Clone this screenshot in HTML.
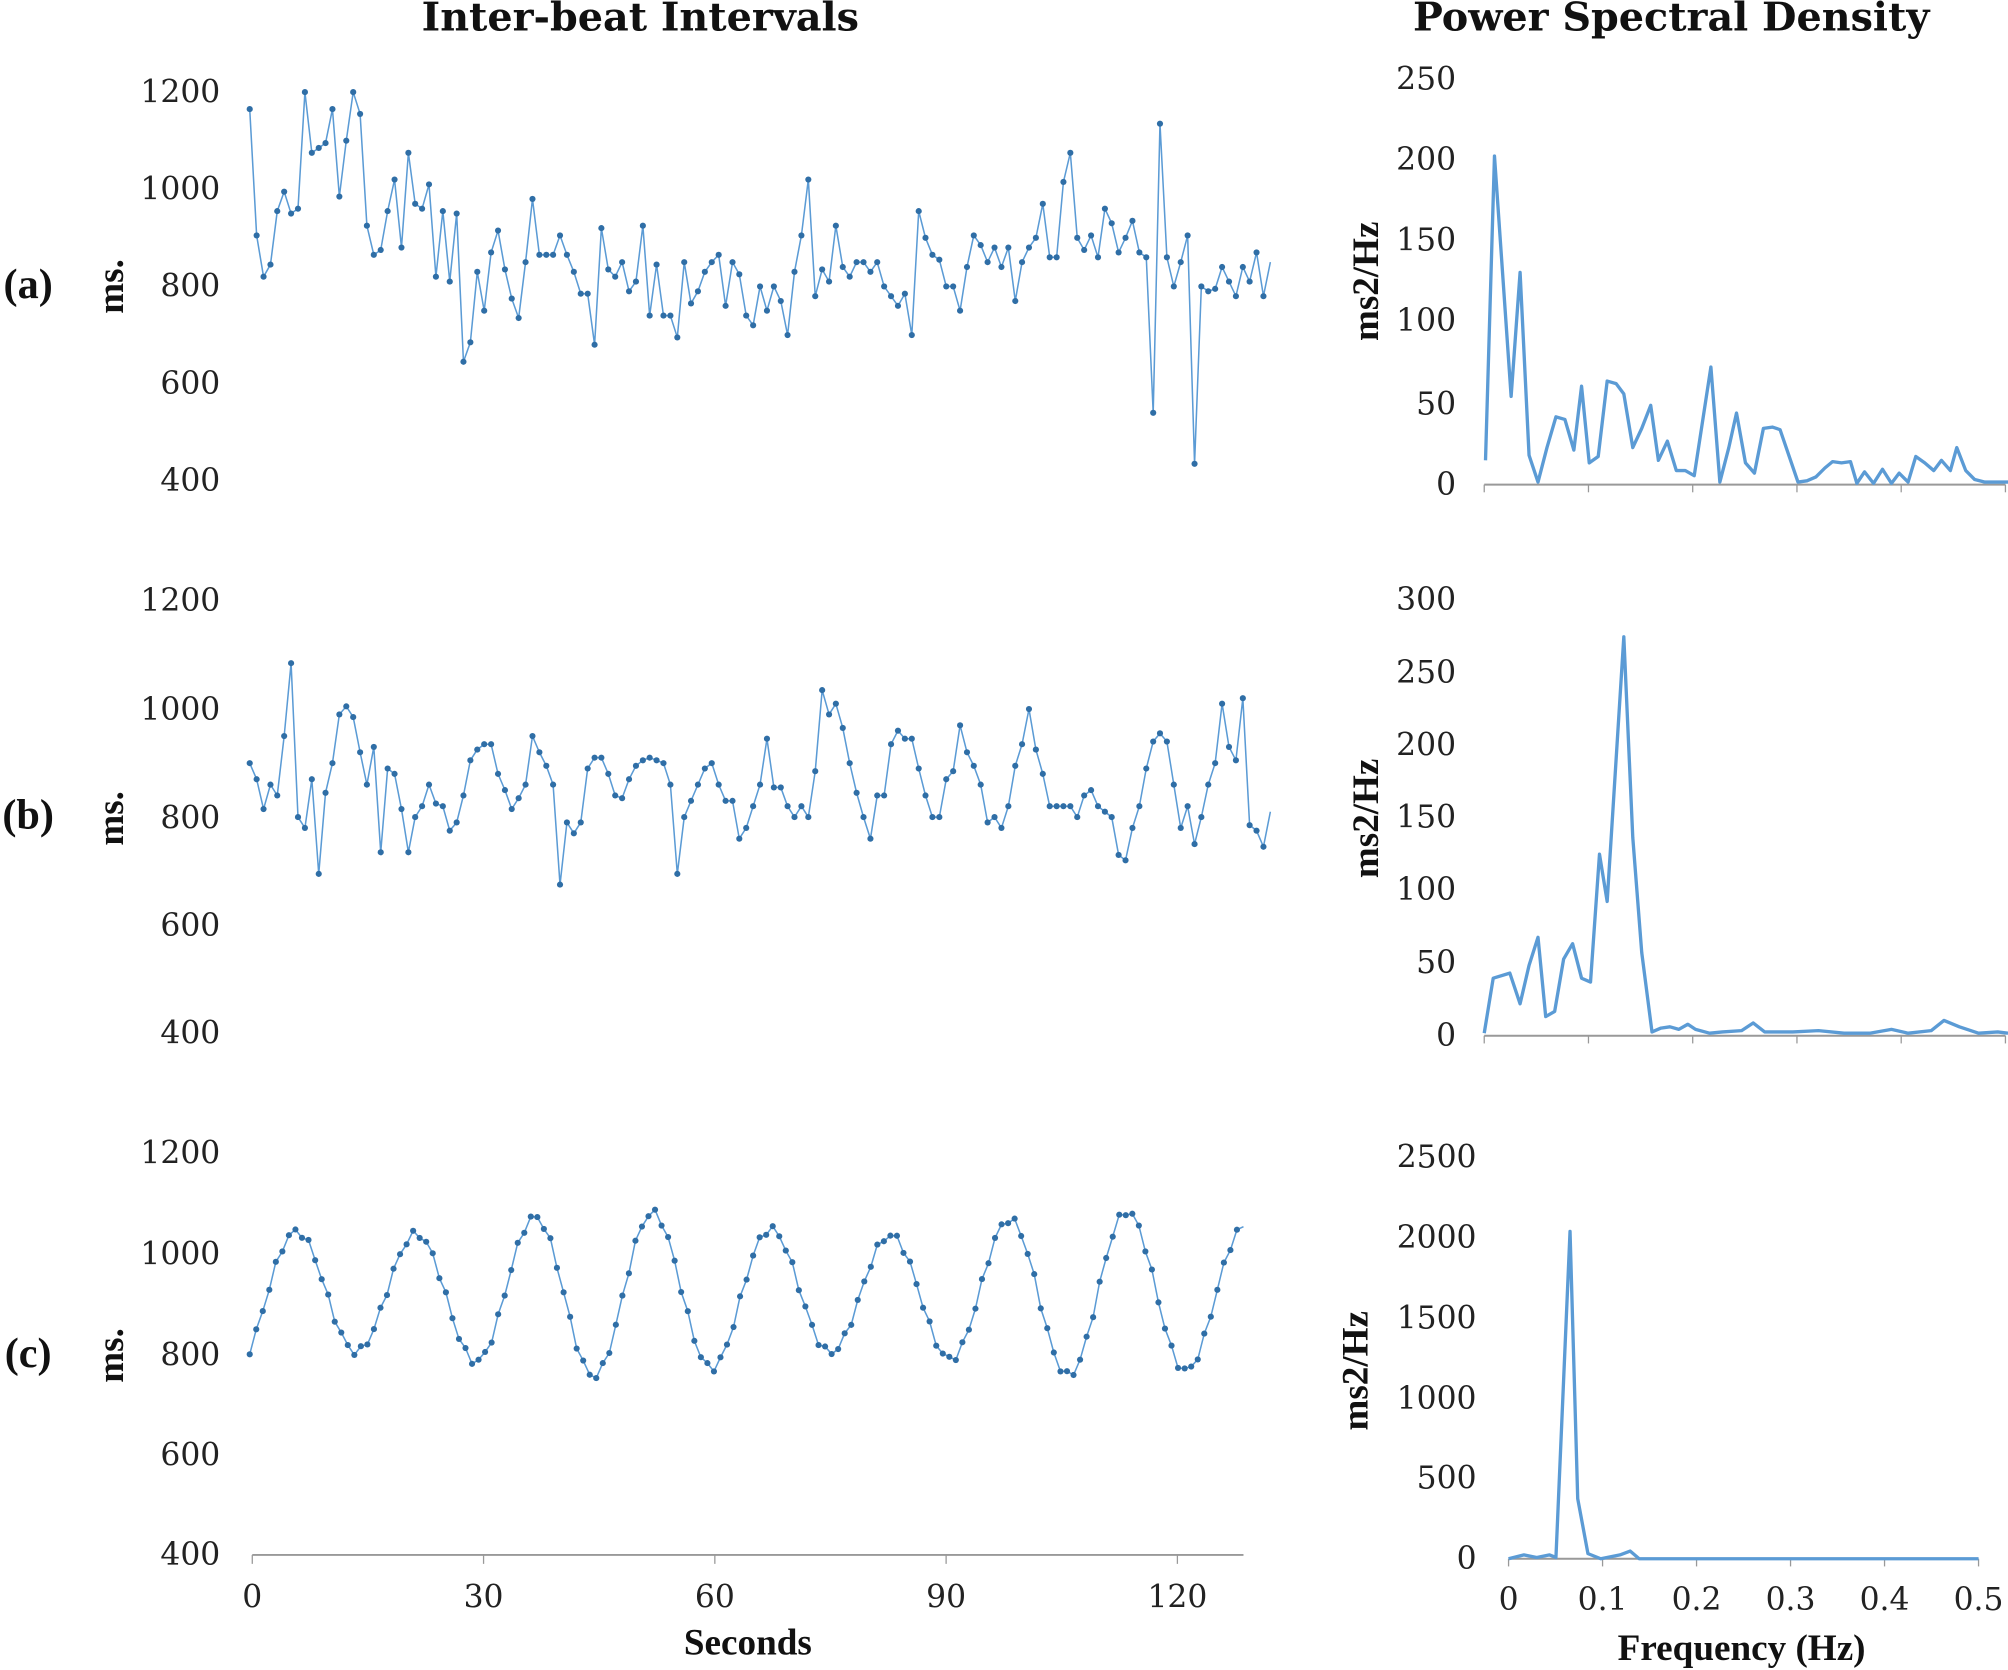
<!DOCTYPE html>
<html><head><meta charset="utf-8">
<style>
html,body{margin:0;padding:0;background:#fff;}
svg{display:block;}
text{font-family:"DejaVu Serif","Liberation Serif",serif;fill:#222;}
.t{font-size:24.5px;}
.ti{font-size:31px;font-weight:bold;fill:#111;}
.pl{font-family:"Liberation Serif",serif;font-size:33px;font-weight:bold;fill:#111;}
.yl{font-family:"Liberation Serif",serif;font-size:29px;font-weight:bold;fill:#111;}
</style></head><body>
<svg id="s" width="2008" height="1670" viewBox="0 0 1568 1306" preserveAspectRatio="none" xmlns="http://www.w3.org/2000/svg">
<text class="ti" x="500" y="24" text-anchor="middle">Inter-beat Intervals</text>
<text class="ti" x="1305" y="24" text-anchor="middle">Power Spectral Density</text>
<g id="g"></g>
</svg>
<script>
var g=document.getElementById('g'),h='';
function T(x,y,s,c,a){h+='<text class="'+(c||'t')+'" x="'+x+'" y="'+y+'" text-anchor="'+(a||'end')+'">'+s+'</text>';}
function R(x,y,s,c){h+='<text class="'+c+'" transform="translate('+x+','+y+') rotate(-90)" text-anchor="middle">'+s+'</text>';}
function ibi(vals,x0,x1,y1200,y400,markers){
 var pts=[],n=vals.length;
 for(var i=0;i<n;i++){var x=x0+(x1-x0)*i/(n-1);var y=y400+(vals[i]-400)/800*(y1200-y400);pts.push(x.toFixed(1)+','+y.toFixed(1));}
 h+='<polyline points="'+pts.join(' ')+'" fill="none" stroke="#5b9bd5" stroke-width="1.2"/>';
 for(var i=0;i<n-1;i++){var p=pts[i].split(',');h+='<circle cx="'+p[0]+'" cy="'+p[1]+'" r="2.4" fill="#2f6ea6"/>';}
}
function yaxis(labels,ys,x){for(var i=0;i<labels.length;i++)T(x,ys[i]+8,labels[i]);}
var A=[1165,905,820,845,955,995,950,960,1200,1075,1085,1095,1165,985,1100,1200,1155,925,865,875,955,1020,880,1075,970,960,1010,820,955,810,950,645,685,830,750,870,915,835,775,735,850,980,865,865,865,905,865,830,785,785,680,920,835,820,850,790,810,925,740,845,740,740,695,850,765,790,830,850,865,760,850,825,740,720,800,750,800,770,700,830,905,1020,780,835,810,925,840,820,850,850,830,850,800,780,760,785,700,955,900,865,855,800,800,750,840,905,885,850,880,840,880,770,850,880,900,970,860,860,1015,1075,900,875,905,860,960,930,870,900,935,870,860,540,1135,860,800,850,905,435,800,790,795,840,810,780,840,810,870,780,850];
yaxis(['1200','1000','800','600','400'],[72,148,224,300,376],172);
ibi(A,195,992,72,376);
T(22,233,'(a)','pl','middle');R(96,224,'ms.','yl');
var B=[900,870,815,860,840,950,1085,800,780,870,695,845,900,990,1005,985,920,860,930,735,890,880,815,735,800,820,860,825,820,775,790,840,905,925,935,935,880,850,815,835,860,950,920,895,860,675,790,770,790,890,910,910,880,840,835,870,895,905,910,905,900,860,695,800,830,860,890,900,860,830,830,760,780,820,860,945,855,855,820,800,820,800,885,1035,990,1010,965,900,845,800,760,840,840,935,960,945,945,890,840,800,800,870,885,970,920,895,860,790,800,780,820,895,935,1000,925,880,820,820,820,820,800,840,850,820,810,800,730,720,780,820,890,940,955,940,860,780,820,750,800,860,900,1010,930,905,1020,785,775,745,810];
yaxis(['1200','1000','800','600','400'],[470,555,640,724,808],172);
ibi(B,195,992,470,808);
T(22,648,'(b)','pl','middle');R(96,640,'ms.','yl');
var C=[];
for(var x=195;x<=971;x+=5.1){var ph=2*Math.PI*(x-232)/92.5;var amp=140+25*Math.sin(x/61);var v=920+amp*Math.cos(ph)+8*Math.sin(x*1.7);C.push(v);}
yaxis(['1200','1000','800','600','400'],[902,981,1060,1138,1216],172);
ibi(C,195,971,902,1216);
h+='<line x1="197" y1="1216" x2="971" y2="1216" stroke="#999" stroke-width="1.5"/>';
[0,30,60,90,120].forEach(function(s){var x=197+s*6.02;h+='<line x1="'+x+'" y1="1216" x2="'+x+'" y2="1223" stroke="#999"/>';T(x,1257,s,'t','middle');});
T(584,1294,'Seconds','yl','middle');
T(22,1069,'(c)','pl','middle');R(96,1060,'ms.','yl');
function psd(pts,axY,x0,x1){
 h+='<line x1="'+x0+'" y1="'+axY+'" x2="'+x1+'" y2="'+axY+'" stroke="#999" stroke-width="1.5"/>';
 for(var i=0;i<=5;i++){var x=x0+(x1-x0)*i/5;h+='<line x1="'+x+'" y1="'+axY+'" x2="'+x+'" y2="'+(axY+6)+'" stroke="#999"/>';}
 h+='<polyline points="'+pts+'" fill="none" stroke="#5b9bd5" stroke-width="2.6" stroke-linejoin="round"/>';
}
yaxis(['250','200','150','100','50','0'],[62,125,188,251,316,379],1137);
psd('1160,360 1167,122 1180,310 1187,213 1194,356 1201,377 1208,350 1215,326 1222,328 1229,352 1235,302 1241,362 1248,357 1255,298 1262,300 1268,308 1275,350 1282,335 1289,317 1295,360 1302,345 1309,368 1316,368 1323,372 1336,287 1343,377 1350,350 1356,323 1363,362 1370,370 1377,335 1384,334 1390,336 1404,377 1411,376 1418,373 1425,366 1431,361 1438,362 1445,361 1450,378 1456,369 1463,378 1470,367 1477,378 1483,370 1490,377 1496,357 1503,362 1510,368 1516,360 1523,368 1528,350 1535,368 1542,375 1550,377 1568,377',379,1159,1566);
R(1076,220,'ms2/Hz','yl');
yaxis(['300','250','200','150','100','50','0'],[469,526,583,639,696,753,810],1137);
psd('1159,808 1166,765 1179,761 1187,785 1194,755 1201,733 1207,795 1214,791 1221,750 1228,738 1235,765 1242,768 1249,668 1255,705 1268,498 1275,655 1282,745 1290,807 1297,804 1304,803 1311,805 1318,801 1324,805 1335,808 1345,807 1360,806 1369,800 1378,807 1400,807 1420,806 1440,808 1460,808 1477,805 1490,808 1508,806 1518,798 1530,803 1545,808 1560,807 1568,808',810,1159,1566);
R(1076,640,'ms2/Hz','yl');
yaxis(['2500','2000','1500','1000','500','0'],[905,968,1031,1094,1156,1219],1153);
psd('1178,1219 1190,1216 1200,1218 1210,1216 1215,1218 1226,963 1232,1172 1240,1215 1250,1219 1265,1216 1273,1213 1280,1219 1545,1219',1219,1178,1545);
['0','0.1','0.2','0.3','0.4','0.5'].forEach(function(s,i){T(1178+i*73.4,1259,s,'t','middle');});
R(1068,1072,'ms2/Hz','yl');
T(1360,1298,'Frequency (Hz)','yl','middle');
g.innerHTML=h;
</script>
</body></html>
